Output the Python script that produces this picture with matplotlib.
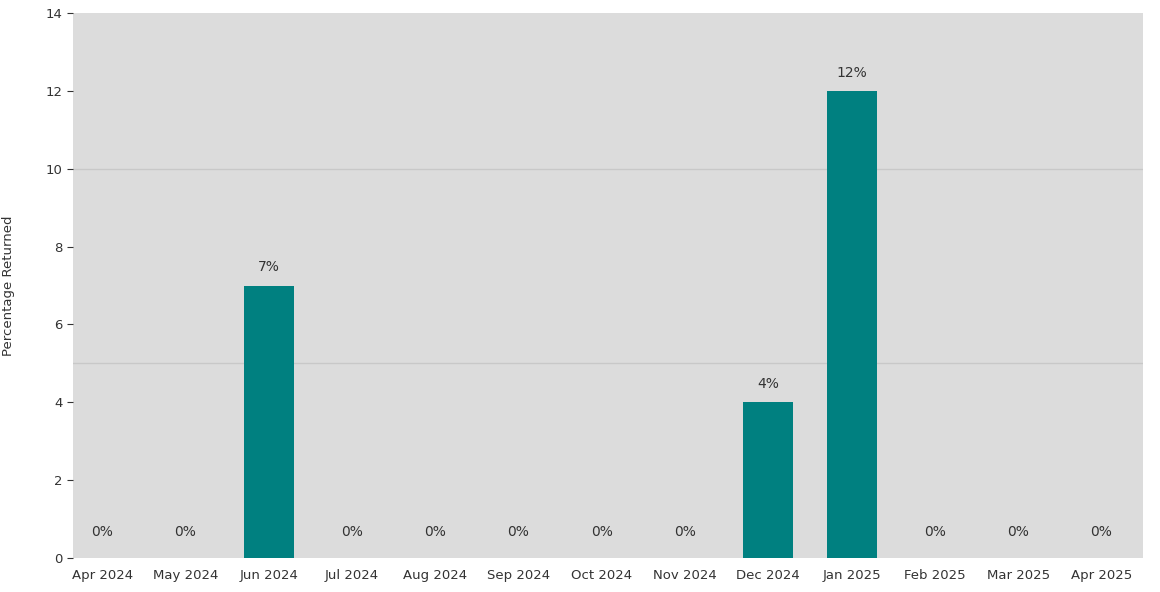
import matplotlib
matplotlib.use("Agg")
import matplotlib.pyplot as plt

months = ["Apr 2024","May 2024","Jun 2024","Jul 2024","Aug 2024","Sep 2024","Oct 2024",
          "Nov 2024","Dec 2024","Jan 2025","Feb 2025","Mar 2025","Apr 2025"]
values = [0,0,7,0,0,0,0,0,4,12,0,0,0]

fig = plt.figure(figsize=(11.6,5.92), dpi=100)
ax = fig.add_axes([73/1160, 1-558/592, (1143-73)/1160, (558-13)/592])
ax.set_facecolor("#dcdcdc")
x = range(len(months))
ax.bar(x, values, width=0.6, color="#008080", zorder=3)
for i, v in zip(x, values):
    ax.annotate(f"{v}%", (i, v), xytext=(0, 8 if v > 0 else 14), textcoords="offset points",
                ha="center", va="bottom", fontsize=10, color="#333333")
for g in (5, 10):
    ax.axhline(g, color="#c8c8c8", lw=1, zorder=1)
ax.set_xlim(-0.35, len(months)-0.5)
ax.set_ylim(0, 14)
ax.set_yticks(range(0, 15, 2))
ax.set_xticks(list(x))
ax.set_xticklabels(months)
ax.tick_params(axis="both", labelsize=9.5, colors="#333333", length=4)
ax.tick_params(axis="x", length=0, pad=8)
for s in ax.spines.values():
    s.set_visible(False)
ax.set_ylabel("Percentage Returned", fontsize=9.5, color="#333333", labelpad=22)
fig.savefig("out.png", dpi=100)
